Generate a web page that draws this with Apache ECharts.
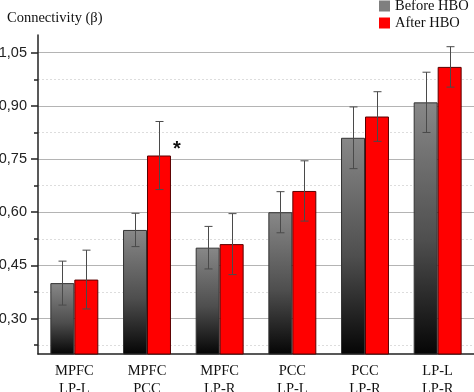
<!DOCTYPE html>
<html><head><meta charset="utf-8">
<script src="https://cdn.jsdelivr.net/npm/echarts@6/dist/echarts.min.js"></script>
<style>html,body{margin:0;padding:0;background:#fff}#c{width:474px;height:392px}</style>
</head><body><div id="c"></div>
<script>
const categories = ['MPFC\nLP-L','MPFC\nPCC','MPFC\nLP-R','PCC\nLP-L','PCC\nLP-R','LP-L\nLP-R'];
const beforeValues = [0.40,0.55,0.50,0.60,0.81,0.91];
const beforeErrors = [0.062,0.047,0.060,0.058,0.087,0.085];
const afterValues = [0.41,0.76,0.51,0.66,0.87,1.01];
const afterErrors = [0.083,0.096,0.086,0.085,0.070,0.057];
const majorTicks = [0.30,0.45,0.60,0.75,0.90,1.05];
const minorTicks = [0.225,0.375,0.525,0.675,0.825,0.975];
const significantMark = ['','*','','','',''];

function errSeries(name, vals, errs, shift){
  return {type:'custom', name:name, z:5, silent:true,
    data: vals.map((v,i)=>[i, v-errs[i], v+errs[i]]),
    renderItem(params, api){
      const bw = api.size([1,0])[0];
      const lo = api.coord([api.value(0), api.value(1)]);
      const hi = api.coord([api.value(0), api.value(2)]);
      const x = Math.round(lo[0] + shift*bw) + 0.5;
      const cap = 4;
      const style = {stroke:'#4a4a4a', lineWidth:1};
      return {type:'group', children:[
        {type:'line', shape:{x1:x,y1:hi[1],x2:x,y2:lo[1]}, style},
        {type:'line', shape:{x1:x-cap,y1:hi[1],x2:x+cap,y2:hi[1]}, style},
        {type:'line', shape:{x1:x-cap,y1:lo[1],x2:x+cap,y2:lo[1]}, style}]};
    }};
}

const chart = echarts.init(document.getElementById('c'), null, {renderer:'canvas'});
chart.setOption({
  backgroundColor:'#fff',
  animation:false,
  title:{text:'Connectivity (β)', left:2, top:6,
    textStyle:{fontFamily:'Liberation Serif', fontSize:14.5, fontWeight:'normal', color:'#111'}},
  legend:{orient:'vertical', left:374, top:-6.5, itemWidth:11, itemHeight:11, itemGap:2,
    icon:'rect',
    textStyle:{fontFamily:'Liberation Serif', fontSize:14.5, color:'#111'},
    data:[{name:'Before HBO', itemStyle:{color:'#7f7f7f', borderWidth:0}},
          {name:'After HBO', itemStyle:{color:'#ff0000', borderWidth:0}}]},
  grid:{left:38, right:0, top:35, bottom:38, containLabel:false, outerBoundsMode:'none'},
  xAxis:{type:'category', data:categories,
    axisLine:{lineStyle:{color:'#222', width:1.5}},
    axisTick:{show:false},
    axisLabel:{fontFamily:'Liberation Serif', fontSize:14.5, color:'#111', lineHeight:18, margin:8, interval:0}},
  yAxis:[{type:'value', min:0.2, max:1.1,
    axisLine:{show:true, lineStyle:{color:'#222', width:1.5}},
    axisTick:{show:true, length:7, customValues:majorTicks, lineStyle:{color:'#222', width:1.5}},
    axisLabel:{customValues:majorTicks, margin:11, fontFamily:'Liberation Sans', fontSize:14.5, color:'#222',
      formatter:v=>v.toFixed(2).replace('.',',')},
    splitLine:{show:true, lineStyle:{color:'#b4b4b4', width:1}}},
   {type:'value', min:0.2, max:1.1, position:'left', offset:0,
    axisLine:{show:false},
    axisTick:{show:true, length:4, customValues:minorTicks, lineStyle:{color:'#222', width:1.5}},
    axisLabel:{show:false},
    splitLine:{show:true, lineStyle:{color:'#dddddd', width:1, type:[2,2]}}}],
  series:[
    {type:'bar', name:'Before HBO', data:beforeValues, barGap:'0%', barCategoryGap:'34%',
      itemStyle:{color:new echarts.graphic.LinearGradient(0,0,0,1,[{offset:0,color:'#888888'},{offset:0.55,color:'#4e4e4e'},{offset:1,color:'#050505'}]),
        borderColor:'#333', borderWidth:1}},
    {type:'bar', name:'After HBO', data:afterValues.map((v,i)=>({value:v,
        label:{show:significantMark[i]!=='', formatter:significantMark[i], position:'top', offset:[18,9],
          fontFamily:'Liberation Sans', fontSize:20, fontWeight:'bold', color:'#111'}})),
      itemStyle:{color:'#ff0000', borderColor:'#5a0000', borderWidth:1}},
    errSeries('errBefore', beforeValues, beforeErrors, -0.165),
    errSeries('errAfter', afterValues, afterErrors, 0.165)
  ]
});
</script></body></html>
